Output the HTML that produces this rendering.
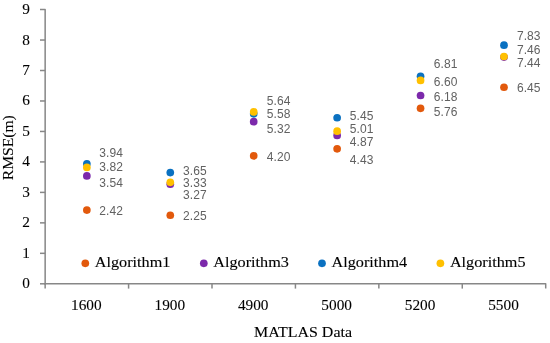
<!DOCTYPE html><html><head><meta charset="utf-8"><title>RMSE chart</title><style>html,body{margin:0;padding:0;background:#fff;}svg{display:block;}.lg{font-family:"Liberation Serif",serif;font-size:15.2px;fill:#000;stroke:#000;stroke-width:0.12px;}.rl{font-family:"Liberation Serif",serif;font-size:15.6px;fill:#000;stroke:#000;stroke-width:0.1px;}.ax{font-family:"Liberation Serif",serif;font-size:15.3px;fill:#000;stroke:#000;stroke-width:0.1px;}.dl{font-family:"Liberation Sans",sans-serif;font-size:12.0px;letter-spacing:0.1px;fill:#616161;}</style></head><body>
<svg width="550" height="343" viewBox="0 0 550 343">
<rect width="550" height="343" fill="#fff"/>
<g stroke="#878787" stroke-width="1.5" fill="none">
<path d="M40 9.57 H45.15 V284.55" stroke-linejoin="round"/>
<path d="M44.4 283.8 H545.70 V288.6" stroke-linejoin="round"/>
<line x1="40" y1="283.80" x2="45.15" y2="283.80"/>
<line x1="40" y1="253.33" x2="45.15" y2="253.33"/>
<line x1="40" y1="222.86" x2="45.15" y2="222.86"/>
<line x1="40" y1="192.39" x2="45.15" y2="192.39"/>
<line x1="40" y1="161.92" x2="45.15" y2="161.92"/>
<line x1="40" y1="131.45" x2="45.15" y2="131.45"/>
<line x1="40" y1="100.98" x2="45.15" y2="100.98"/>
<line x1="40" y1="70.51" x2="45.15" y2="70.51"/>
<line x1="40" y1="40.04" x2="45.15" y2="40.04"/>
<line x1="45.15" y1="283.8" x2="45.15" y2="288.6"/>
<line x1="128.58" y1="283.8" x2="128.58" y2="288.6"/>
<line x1="212.00" y1="283.8" x2="212.00" y2="288.6"/>
<line x1="295.43" y1="283.8" x2="295.43" y2="288.6"/>
<line x1="378.85" y1="283.8" x2="378.85" y2="288.6"/>
<line x1="462.28" y1="283.8" x2="462.28" y2="288.6"/>
</g>
<text class="ax" x="30" y="288.30" text-anchor="end">0</text>
<text class="ax" x="30" y="257.83" text-anchor="end">1</text>
<text class="ax" x="30" y="227.36" text-anchor="end">2</text>
<text class="ax" x="30" y="196.89" text-anchor="end">3</text>
<text class="ax" x="30" y="166.42" text-anchor="end">4</text>
<text class="ax" x="30" y="135.95" text-anchor="end">5</text>
<text class="ax" x="30" y="105.48" text-anchor="end">6</text>
<text class="ax" x="30" y="75.01" text-anchor="end">7</text>
<text class="ax" x="30" y="44.54" text-anchor="end">8</text>
<text class="ax" x="30" y="14.07" text-anchor="end">9</text>
<text class="ax" x="86.36" y="310.2" text-anchor="middle">1600</text>
<text class="ax" x="169.79" y="310.2" text-anchor="middle">1900</text>
<text class="ax" x="253.21" y="310.2" text-anchor="middle">4900</text>
<text class="ax" x="336.64" y="310.2" text-anchor="middle">5000</text>
<text class="ax" x="420.06" y="310.2" text-anchor="middle">5200</text>
<text class="ax" x="503.49" y="310.2" text-anchor="middle">5500</text>
<text class="ax" x="254" y="337" textLength="98" lengthAdjust="spacingAndGlyphs">MATLAS Data</text>
<text class="rl" transform="translate(12.6,147.7) rotate(-90)" x="0" y="0" text-anchor="middle">RMSE(m)</text>
<circle cx="86.86" cy="210.06" r="3.85" fill="#E2590C"/>
<circle cx="86.86" cy="175.94" r="3.85" fill="#7C29AB"/>
<circle cx="86.86" cy="163.75" r="3.85" fill="#0A71C1"/>
<circle cx="86.86" cy="167.40" r="3.85" fill="#FFC000"/>
<circle cx="170.29" cy="215.24" r="3.85" fill="#E2590C"/>
<circle cx="170.29" cy="184.16" r="3.85" fill="#7C29AB"/>
<circle cx="170.29" cy="172.58" r="3.85" fill="#0A71C1"/>
<circle cx="170.29" cy="182.33" r="3.85" fill="#FFC000"/>
<circle cx="253.71" cy="155.83" r="3.85" fill="#E2590C"/>
<circle cx="253.71" cy="121.70" r="3.85" fill="#7C29AB"/>
<circle cx="253.71" cy="113.78" r="3.85" fill="#0A71C1"/>
<circle cx="253.71" cy="111.95" r="3.85" fill="#FFC000"/>
<circle cx="337.14" cy="148.82" r="3.85" fill="#E2590C"/>
<circle cx="337.14" cy="135.41" r="3.85" fill="#7C29AB"/>
<circle cx="337.14" cy="117.74" r="3.85" fill="#0A71C1"/>
<circle cx="337.14" cy="131.15" r="3.85" fill="#FFC000"/>
<circle cx="420.56" cy="108.29" r="3.85" fill="#E2590C"/>
<circle cx="420.56" cy="95.50" r="3.85" fill="#7C29AB"/>
<circle cx="420.56" cy="76.30" r="3.85" fill="#0A71C1"/>
<circle cx="420.56" cy="80.40" r="3.85" fill="#FFC000"/>
<circle cx="503.99" cy="87.27" r="3.85" fill="#E2590C"/>
<circle cx="503.99" cy="57.10" r="3.85" fill="#7C29AB"/>
<circle cx="503.99" cy="45.22" r="3.85" fill="#0A71C1"/>
<circle cx="503.99" cy="56.49" r="3.85" fill="#FFC000"/>
<text class="dl" x="99.30" y="156.50">3.94</text>
<text class="dl" x="99.30" y="170.60">3.82</text>
<text class="dl" x="99.30" y="187.30">3.54</text>
<text class="dl" x="99.30" y="215.00">2.42</text>
<text class="dl" x="183.10" y="175.30">3.65</text>
<text class="dl" x="183.10" y="187.00">3.33</text>
<text class="dl" x="183.10" y="199.30">3.27</text>
<text class="dl" x="183.10" y="219.80">2.25</text>
<text class="dl" x="266.80" y="105.30">5.64</text>
<text class="dl" x="266.80" y="118.40">5.58</text>
<text class="dl" x="266.80" y="132.50">5.32</text>
<text class="dl" x="266.80" y="160.60">4.20</text>
<text class="dl" x="349.80" y="120.40">5.45</text>
<text class="dl" x="349.80" y="133.30">5.01</text>
<text class="dl" x="349.80" y="146.10">4.87</text>
<text class="dl" x="349.80" y="164.10">4.43</text>
<text class="dl" x="433.70" y="68.20">6.81</text>
<text class="dl" x="433.70" y="85.70">6.60</text>
<text class="dl" x="433.70" y="100.70">6.18</text>
<text class="dl" x="433.70" y="116.10">5.76</text>
<text class="dl" x="516.90" y="40.00">7.83</text>
<text class="dl" x="516.90" y="53.50">7.46</text>
<text class="dl" x="516.90" y="67.00">7.44</text>
<text class="dl" x="516.90" y="92.30">6.45</text>
<circle cx="85.3" cy="263.3" r="3.85" fill="#E2590C"/>
<text class="lg" x="94.80" y="267.2" textLength="75.6" lengthAdjust="spacingAndGlyphs">Algorithm1</text>
<circle cx="203.8" cy="263.3" r="3.85" fill="#7C29AB"/>
<text class="lg" x="213.30" y="267.2" textLength="75.6" lengthAdjust="spacingAndGlyphs">Algorithm3</text>
<circle cx="322.0" cy="263.3" r="3.85" fill="#0A71C1"/>
<text class="lg" x="331.50" y="267.2" textLength="75.6" lengthAdjust="spacingAndGlyphs">Algorithm4</text>
<circle cx="440.4" cy="263.3" r="3.85" fill="#FFC000"/>
<text class="lg" x="449.90" y="267.2" textLength="75.6" lengthAdjust="spacingAndGlyphs">Algorithm5</text>
</svg></body></html>
